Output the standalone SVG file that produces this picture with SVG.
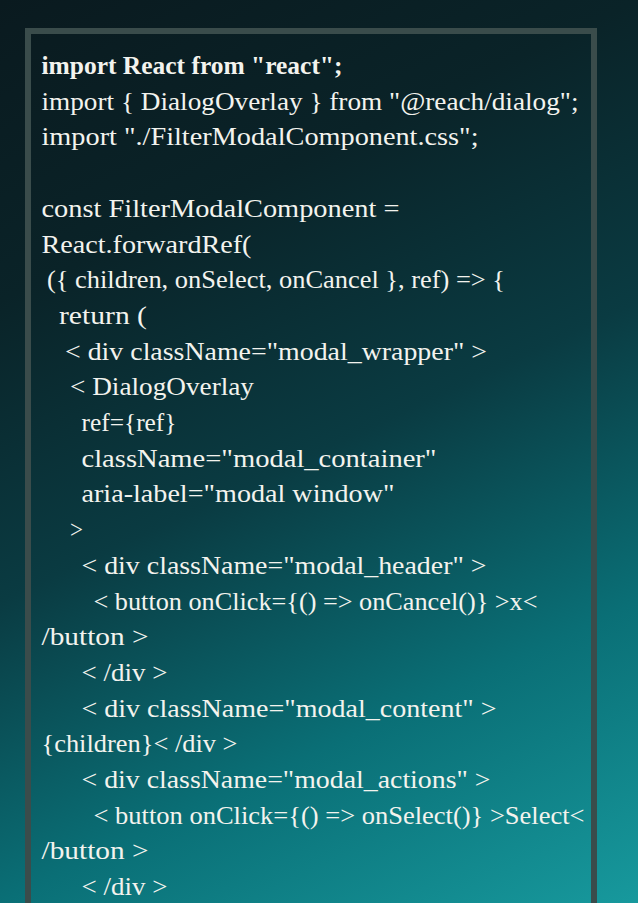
<svg xmlns="http://www.w3.org/2000/svg" width="638" height="903" viewBox="0 0 638 903">
<defs>
<linearGradient id="bg" gradientUnits="userSpaceOnUse" x1="0" y1="0" x2="463" y2="985">
<stop offset="0" stop-color="#0a1a1f"/>
<stop offset="0.25" stop-color="#0a2328"/>
<stop offset="0.5" stop-color="#0a3b42"/>
<stop offset="0.75" stop-color="#0a6f76"/>
<stop offset="1" stop-color="#17999d"/>
</linearGradient>
<style>
.c{font-family:"Liberation Serif","Times New Roman",serif;font-size:25px;fill:#f3f3ee;}
.b{font-weight:bold;}
</style>
</defs>
<rect x="0" y="0" width="638" height="903" fill="url(#bg)"/>
<g id="frame">
<rect x="28" y="31" width="566" height="1000" fill="none" stroke="#3a4c4b" stroke-width="6"/>
</g>
<g id="code" class="c" xml:space="preserve">
<text class="b" x="41.5" y="74" textLength="301" lengthAdjust="spacingAndGlyphs">import React from "react";</text>
<text x="41.5" y="109.7" textLength="537" lengthAdjust="spacingAndGlyphs">import { DialogOverlay } from "@reach/dialog";</text>
<text x="41.5" y="145.4" textLength="437" lengthAdjust="spacingAndGlyphs">import "./FilterModalComponent.css";</text>
<text x="41.5" y="216.8" textLength="358" lengthAdjust="spacingAndGlyphs">const FilterModalComponent =</text>
<text x="41.5" y="252.5" textLength="210" lengthAdjust="spacingAndGlyphs">React.forwardRef(</text>
<text x="47" y="288.2" textLength="458" lengthAdjust="spacingAndGlyphs">({ children, onSelect, onCancel }, ref) =&gt; {</text>
<text x="59" y="323.9" textLength="88" lengthAdjust="spacingAndGlyphs">return (</text>
<text x="65" y="359.6" textLength="422" lengthAdjust="spacingAndGlyphs">&lt; div className="modal_wrapper" &gt;</text>
<text x="70" y="395.3" textLength="184" lengthAdjust="spacingAndGlyphs">&lt; DialogOverlay</text>
<text x="81.5" y="431" textLength="95" lengthAdjust="spacingAndGlyphs">ref={ref}</text>
<text x="81.5" y="466.7" textLength="355" lengthAdjust="spacingAndGlyphs">className="modal_container"</text>
<text x="81.5" y="502.4" textLength="313" lengthAdjust="spacingAndGlyphs">aria-label="modal window"</text>
<text x="70" y="538.1" textLength="13" lengthAdjust="spacingAndGlyphs">&gt;</text>
<text x="81.5" y="573.8" textLength="405" lengthAdjust="spacingAndGlyphs">&lt; div className="modal_header" &gt;</text>
<text x="93.5" y="609.5" textLength="444" lengthAdjust="spacingAndGlyphs">&lt; button onClick={() =&gt; onCancel()} &gt;x&lt;</text>
<text x="41.5" y="645.2" textLength="107" lengthAdjust="spacingAndGlyphs">/button &gt;</text>
<text x="81.5" y="680.9" textLength="86" lengthAdjust="spacingAndGlyphs">&lt; /div &gt;</text>
<text x="81.5" y="716.6" textLength="415" lengthAdjust="spacingAndGlyphs">&lt; div className="modal_content" &gt;</text>
<text x="41.5" y="752.3" textLength="196" lengthAdjust="spacingAndGlyphs">{children}&lt; /div &gt;</text>
<text x="81.5" y="788" textLength="409" lengthAdjust="spacingAndGlyphs">&lt; div className="modal_actions" &gt;</text>
<text x="93.5" y="823.7" textLength="491" lengthAdjust="spacingAndGlyphs">&lt; button onClick={() =&gt; onSelect()} &gt;Select&lt;</text>
<text x="41.5" y="859.4" textLength="107" lengthAdjust="spacingAndGlyphs">/button &gt;</text>
<text x="81.5" y="895.1" textLength="86" lengthAdjust="spacingAndGlyphs">&lt; /div &gt;</text>
</g>
</svg>
